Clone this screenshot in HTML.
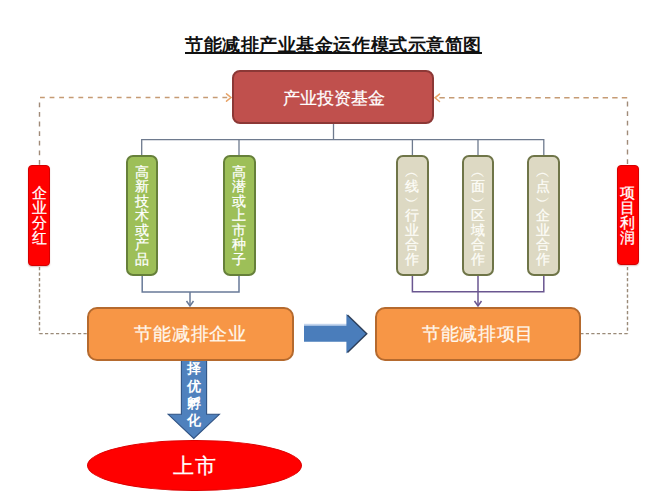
<!DOCTYPE html>
<html><head><meta charset="utf-8">
<style>
html,body{margin:0;padding:0;background:#fff;width:667px;height:500px;overflow:hidden;}
body{position:relative;font-family:"Liberation Sans",sans-serif;}
.a{position:absolute;box-sizing:border-box;}
.title{left:185px;top:33.8px;width:297px;height:24px;font-size:18px;letter-spacing:0.56px;line-height:22px;font-weight:bold;color:#111;white-space:nowrap;text-decoration:underline;text-underline-offset:1.3px;text-decoration-thickness:1.5px;}
.redbox{left:232.4px;top:70.3px;width:201.4px;height:54.2px;background:#c0504d;border:2px solid #8c3836;border-radius:8px;color:#fff;font-size:17px;display:flex;align-items:center;justify-content:center;padding:1.5px 0 0 2px;}
.lab{width:22px;height:100.3px;background:#ff0000;border:1px solid #d40000;border-radius:4px;box-shadow:0 1px 1.5px rgba(120,0,0,0.25);color:#fff;font-size:15px;line-height:15px;display:flex;align-items:center;justify-content:center;}
.vbox{top:155px;width:32.5px;height:121px;border:2px solid;border-radius:7px;color:#fff;font-size:14.4px;line-height:14.4px;display:flex;align-items:center;justify-content:center;white-space:nowrap;}
.green{background:#9dbf58;border-color:#66803a;}
.beige{background:#ddd9c3;border-color:#6f7548;color:#fdfdf8;}
.orange{top:307px;height:53.6px;background:#f79646;border:2px solid #b56a2e;border-radius:10px;color:#fff8ee;font-size:18px;letter-spacing:0.7px;padding-left:0.7px;display:flex;align-items:center;justify-content:center;}
.ell{left:87px;top:439.5px;width:214.5px;height:51.7px;background:#ff0000;border:1px solid #dd0000;border-radius:50%;color:#fff;font-size:21px;display:flex;align-items:center;justify-content:center;padding-top:1.8px;letter-spacing:0.8px;padding-left:0.8px;}
.arrtxt{left:183px;top:359px;width:22px;height:72px;color:#fff;font-weight:bold;font-size:14px;line-height:17.4px;display:flex;align-items:center;justify-content:center;}
svg{position:absolute;left:0;top:0;}
.redbox,.lab,.vbox,.orange,.ell{-webkit-text-stroke:0.25px currentColor;}
.v{display:block;width:1em;text-align:center;word-break:break-all;white-space:normal;}
</style></head><body>
<svg width="667" height="500" viewBox="0 0 667 500">
  <!-- dashed feedback lines -->
  <g fill="none" stroke-width="1.4">
    <path d="M40 97.5 H229" stroke="#c69b74" stroke-dasharray="4.8 4.8"/>
    <path d="M39.5 102.4 V165" stroke="#a08a78" stroke-dasharray="4.8 4.8"/>
    <path d="M627.2 97.8 H436" stroke="#c69b74" stroke-dasharray="5.4 4.2"/>
    <path d="M627.5 101.6 V165" stroke="#a08a78" stroke-dasharray="4.8 4.8"/>
    <path d="M39.5 267 V333.6" stroke="#9a8a78" stroke-dasharray="3.2 2.3"/>
    <path d="M39.5 333.6 H87" stroke="#9a8a78" stroke-dasharray="3.2 2.3"/>
    <path d="M627.5 267 V333.6" stroke="#9a8a78" stroke-dasharray="3.2 2.3"/>
    <path d="M627.5 333.6 H581" stroke="#9a8a78" stroke-dasharray="3.2 2.3"/>
  </g>
  <g fill="none" stroke="#e8a468" stroke-width="1.5" stroke-linecap="round">
    <path d="M226.5 93.8 L231 97.5 L226.5 101.2"/>
    <path d="M439.5 94.1 L435 97.8 L439.5 101.5"/>
  </g>
  <!-- top connectors -->
  <g fill="none" stroke="#6e7a8e" stroke-width="1.3">
    <path d="M333.5 124 V139.7"/>
    <path d="M141.7 155 V139.7 H543.8 V155"/>
    <path d="M239 139.7 V155"/>
    <path d="M412.4 139.7 V155"/>
    <path d="M478 139.7 V155"/>
  </g>
  <!-- green to orange -->
  <g fill="none" stroke="#687a98" stroke-width="1.5">
    <path d="M142.2 276 V291.9 H239 V276"/>
    <path d="M190 291.9 V306"/>
    <path d="M186.5 301 L190 306 L193.5 301"/>
  </g>
  <!-- beige to orange -->
  <g fill="none" stroke="#6a5690" stroke-width="1.5">
    <path d="M412.4 276 V291.8 H543.8 V276"/>
    <path d="M478 276 V306"/>
    <path d="M474.5 301 L478 306 L481.5 301"/>
  </g>
  <!-- right blue arrow -->
  <rect x="304" y="323.8" width="43" height="3" fill="#a9c3e6" opacity="0.7"/>
  <path d="M304 325.8 H346.4 V314 L367 333.7 L346.4 353.5 V341.7 H304 Z" fill="#4a7dbb"/>
  <path d="M347.5 315 L366.8 333.7 L347.5 352.5" fill="none" stroke="#1c2c44" stroke-width="1.4" opacity="0.85"/>
  <!-- down blue arrow -->
  <path d="M181.4 359 H206.6 V414.3 H219.4 L193.8 438.5 L168.2 414.3 H181.4 Z" fill="#4f81bd" stroke="#2f5283" stroke-width="1.1"/>
</svg>
<div class="a title">节能减排产业基金运作模式示意简图</div>
<div class="a redbox">产业投资基金</div>
<div class="a lab" style="left:28.4px;top:165.3px;"><span class="v">企<br>业<br>分<br>红</span></div>
<div class="a lab" style="left:616.7px;top:165.2px;"><span class="v">项<br>目<br>利<br>润</span></div>
<div class="a vbox green" style="left:125.5px;"><span class="v">高<br>新<br>技<br>术<br>或<br>产<br>品</span></div>
<div class="a vbox green" style="left:223px;"><span class="v">高<br>潜<br>或<br>上<br>市<br>种<br>子</span></div>
<div class="a vbox beige" style="left:396px;"><span class="v">︵<br>线<br>︶<br>行<br>业<br>合<br>作</span></div>
<div class="a vbox beige" style="left:461.5px;"><span class="v">︵<br>面<br>︶<br>区<br>域<br>合<br>作</span></div>
<div class="a vbox beige" style="left:527px;"><span class="v">︵<br>点<br>︶<br>企<br>业<br>合<br>作</span></div>
<div class="a orange" style="left:87px;width:206.5px;">节能减排企业</div>
<div class="a orange" style="left:375px;width:205.5px;">节能减排项目</div>
<div class="a arrtxt"><span class="v">择<br>优<br>孵<br>化</span></div>
<div class="a ell">上市</div>
</body></html>
